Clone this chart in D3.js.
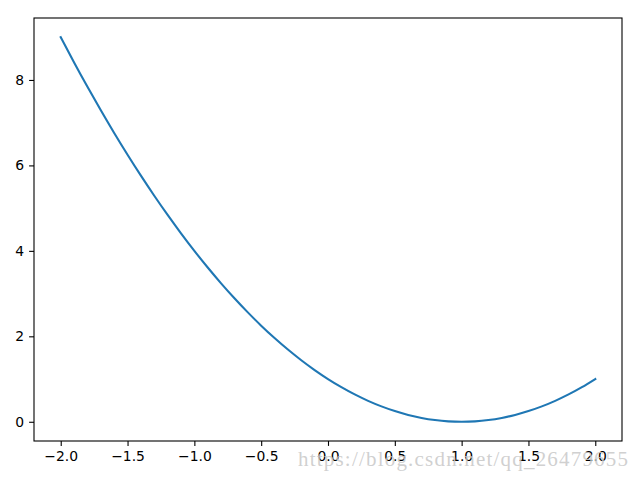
<!DOCTYPE html>
<html><head><meta charset="utf-8">
<script src="https://cdn.jsdelivr.net/npm/d3@7"></script>
<style>body{margin:0;background:#fff}svg{display:block}</style>
</head><body>
<script>
const xValues = [-2, -1.9, -1.8, -1.7, -1.6, -1.5, -1.4, -1.3, -1.2, -1.1, -1, -0.9, -0.8, -0.7, -0.6, -0.5, -0.4, -0.3, -0.2, -0.1,
  0, 0.1, 0.2, 0.3, 0.4, 0.5, 0.6, 0.7, 0.8, 0.9, 1, 1.1, 1.2, 1.3, 1.4, 1.5, 1.6, 1.7, 1.8, 1.9, 2];
const yValues = [9, 8.41, 7.84, 7.29, 6.76, 6.25, 5.76, 5.29, 4.84, 4.41, 4, 3.61, 3.24, 2.89, 2.56, 2.25, 1.96, 1.69, 1.44, 1.21,
  1, 0.81, 0.64, 0.49, 0.36, 0.25, 0.16, 0.09, 0.04, 0.01, 0, 0.01, 0.04, 0.09, 0.16, 0.25, 0.36, 0.49, 0.64, 0.81, 1];
const xTicks = [-2.0, -1.5, -1.0, -0.5, 0.0, 0.5, 1.0, 1.5, 2.0];
const yTicks = [0, 2, 4, 6, 8];
const watermark = "https://blog.csdn.net/qq_26479655";

const W = 640, H = 480;
const m = {left: 34, right: 622, top: 18, bottom: 441};
const svg = d3.select("body").append("svg").attr("width", W).attr("height", H);

const x = d3.scaleLinear().domain([-2.2, 2.2]).range([m.left, m.right]);
const y = d3.scaleLinear().domain([-0.45, 9.45]).range([m.bottom, m.top]);
const fmt = v => (v < 0 ? "\u2212" : "") + Math.abs(v).toFixed(1);

const data = xValues.map((v, i) => [v, yValues[i]]);
svg.append("path").datum(data)
  .attr("fill", "none").attr("stroke", "#1f77b4").attr("stroke-width", 2.1)
  .attr("stroke-linecap", "square")
  .attr("d", d3.line().x(d => x(d[0])).y(d => y(d[1])).curve(d3.curveNatural));

const xa = svg.append("g").attr("transform", `translate(0,${m.bottom})`)
  .call(d3.axisBottom(x).tickValues(xTicks).tickFormat(fmt).tickSize(4.9).tickPadding(4.9));
const ya = svg.append("g").attr("transform", `translate(${m.left},0)`)
  .call(d3.axisLeft(y).tickValues(yTicks).tickFormat(d3.format("d")).tickSize(4.9).tickPadding(4.9));
[xa, ya].forEach(g => {
  g.select(".domain").remove();
  g.selectAll("line").attr("stroke", "#000").attr("stroke-width", 1.1);
  g.selectAll("text").attr("font-family", "DejaVu Sans").attr("font-size", 13.9).attr("fill", "#000");
});
svg.append("rect").attr("x", m.left).attr("y", m.top)
  .attr("width", m.right - m.left).attr("height", m.bottom - m.top)
  .attr("fill", "none").attr("stroke", "#000").attr("stroke-width", 1.1);

svg.append("text").attr("x", 298).attr("y", 466)
  .attr("font-family", "Liberation Serif").attr("font-size", 21)
  .attr("fill", "#c8c8c8").attr("fill-opacity", 0.85)
  .attr("textLength", 330).attr("lengthAdjust", "spacing")
  .text(watermark);
</script>
</body></html>
